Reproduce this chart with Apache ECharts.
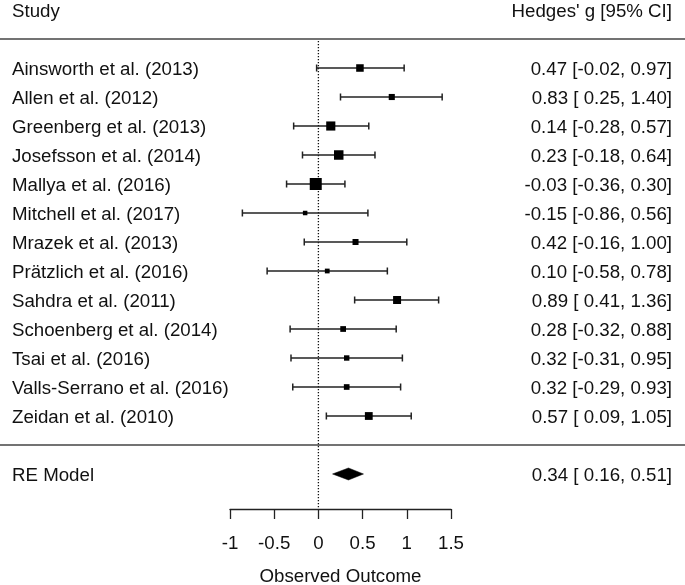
<!DOCTYPE html>
<html>
<head>
<meta charset="utf-8">
<script src="https://cdn.jsdelivr.net/npm/echarts@6/dist/echarts.min.js"></script>
<style>html,body{margin:0;padding:0;background:#fff}#chart{width:685px;height:585px}</style>
</head>
<body>
<div id="chart"></div>
<script>
const studies = ["Ainsworth et al. (2013)","Allen et al. (2012)","Greenberg et al. (2013)","Josefsson et al. (2014)","Mallya et al. (2016)","Mitchell et al. (2017)","Mrazek et al. (2013)","Prätzlich et al. (2016)","Sahdra et al. (2011)","Schoenberg et al. (2014)","Tsai et al. (2016)","Valls-Serrano et al. (2016)","Zeidan et al. (2010)"];
const estimates = [0.47, 0.83, 0.14, 0.23, -0.03, -0.15, 0.42, 0.10, 0.89, 0.28, 0.32, 0.32, 0.57];
const lowerCI  = [-0.02, 0.25, -0.28, -0.18, -0.36, -0.86, -0.16, -0.58, 0.41, -0.32, -0.31, -0.29, 0.09];
const upperCI  = [0.97, 1.40, 0.57, 0.64, 0.30, 0.56, 1.00, 0.78, 1.36, 0.88, 0.95, 0.93, 1.05];
const weightsPct = [8.2, 6.6, 10.0, 10.4, 13.2, 4.8, 6.5, 5.1, 8.7, 6.2, 5.8, 6.1, 8.5];
const reModel = {label: "RE Model", est: 0.34, lb: 0.16, ub: 0.51};
const headerLeft = "Study";
const headerRight = "Hedges' g [95% CI]";
const xTicks = [-1, -0.5, 0, 0.5, 1, 1.5];
const xTitle = "Observed Outcome";

const k = studies.length;
const FONT = 'Liberation Sans, Arial, Helvetica, sans-serif';
const FS = 18.7;
const TXT = '#111';
const LINE = '#222';

function fmt(v){ return v.toFixed(2); }
function padNum(v){ return (v >= 0 ? ' ' : '') + fmt(v); }
function ciText(e, l, u){ return fmt(e) + ' [' + padNum(l) + ', ' + fmt(u) + ']'; }

const wMin = Math.min(...weightsPct), wMax = Math.max(...weightsPct);
function sqSize(w){ return 4.5 + (w - wMin) / (wMax - wMin) * 7.5; }

const studyData = studies.map((s, i) => [estimates[i], k - i, lowerCI[i], upperCI[i], weightsPct[i]]);
const textRows = studies.map((s, i) => ({row: k - i, left: s, right: ciText(estimates[i], lowerCI[i], upperCI[i])}));
textRows.push({row: -1, left: reModel.label, right: ciText(reModel.est, reModel.lb, reModel.ub)});
textRows.push({row: k + 2, left: headerLeft, right: headerRight});

const yMin = -2.207, yMax = 15.345;

const chart = echarts.init(document.getElementById('chart'), null, {renderer: 'canvas'});
chart.setOption({
  animation: false,
  backgroundColor: '#fff',
  grid: {left: 230, width: 221, top: 0, bottom: 76, containLabel: false, outerBoundsMode: 'none'},
  xAxis: {
    type: 'value', min: xTicks[0], max: xTicks[xTicks.length - 1], interval: 0.5,
    position: 'bottom',
    axisLine: {show: true, onZero: false, lineStyle: {color: LINE, width: 1.3}},
    axisTick: {show: true, inside: false, length: 10, lineStyle: {color: LINE, width: 1.3}},
    splitLine: {show: false},
    axisLabel: {fontSize: FS, fontFamily: FONT, color: TXT, margin: 25, formatter: v => String(v)},
    name: xTitle, nameLocation: 'middle', nameGap: 58,
    nameTextStyle: {fontSize: FS, fontFamily: FONT, color: TXT}
  },
  yAxis: {type: 'value', min: yMin, max: yMax, show: false},
  series: [
    {
      type: 'custom', name: 'frame', data: [[0, k + 1], [0, 0]],
      renderItem: function(params, api){
        const p = api.coord([0, api.value(1)]);
        return {type: 'line', shape: {x1: 0, y1: p[1], x2: api.getWidth(), y2: p[1]},
          style: {stroke: '#444', lineWidth: 1.4}};
      }
    },
    {
      type: 'custom', name: 'ref', data: [[0, k + 1]],
      renderItem: function(params, api){
        const a = api.coord([0, api.value(1)]);
        const b = api.coord([0, yMin]);
        return {type: 'line', shape: {x1: a[0], y1: a[1] + 2, x2: b[0], y2: b[1]},
          style: {stroke: '#111', lineWidth: 1.3, lineDash: [1.3, 1.7]}};
      }
    },
    {
      type: 'custom', name: 'studies', data: studyData,
      renderItem: function(params, api){
        const c = api.coord([api.value(0), api.value(1)]);
        const l = api.coord([api.value(2), api.value(1)]);
        const u = api.coord([api.value(3), api.value(1)]);
        const s = sqSize(api.value(4));
        const cap = 3.5;
        const st = {stroke: LINE, lineWidth: 1.5};
        return {type: 'group', children: [
          {type: 'line', shape: {x1: l[0], y1: l[1], x2: u[0], y2: u[1]}, style: st},
          {type: 'line', shape: {x1: l[0], y1: l[1] - cap, x2: l[0], y2: l[1] + cap}, style: st},
          {type: 'line', shape: {x1: u[0], y1: u[1] - cap, x2: u[0], y2: u[1] + cap}, style: st},
          {type: 'rect', shape: {x: c[0] - s / 2, y: c[1] - s / 2, width: s, height: s}, style: {fill: '#000'}}
        ]};
      }
    },
    {
      type: 'custom', name: 're', data: [[reModel.est, -1, reModel.lb, reModel.ub]],
      renderItem: function(params, api){
        const c = api.coord([api.value(0), api.value(1)]);
        const l = api.coord([api.value(2), api.value(1)]);
        const u = api.coord([api.value(3), api.value(1)]);
        const h = 6;
        return {type: 'polygon', shape: {points: [[l[0], l[1]], [c[0], c[1] - h], [u[0], u[1]], [c[0], c[1] + h]]},
          style: {fill: '#000', stroke: '#000', lineWidth: 0.5}};
      }
    },
    {
      type: 'custom', name: 'texts', data: textRows.map(t => [0, t.row]),
      renderItem: function(params, api){
        const t = textRows[params.dataIndex];
        const p = api.coord([0, api.value(1)]);
        const base = {fontSize: FS, fontFamily: FONT, fill: TXT, textVerticalAlign: 'middle'};
        return {type: 'group', children: [
          {type: 'text', style: Object.assign({}, base, {text: t.left, x: 12, y: p[1] + 1.5, textAlign: 'left'})},
          {type: 'text', style: Object.assign({}, base, {text: t.right, x: 672, y: p[1] + 1.5, textAlign: 'right'})}
        ]};
      }
    }
  ]
});
</script>
</body>
</html>
